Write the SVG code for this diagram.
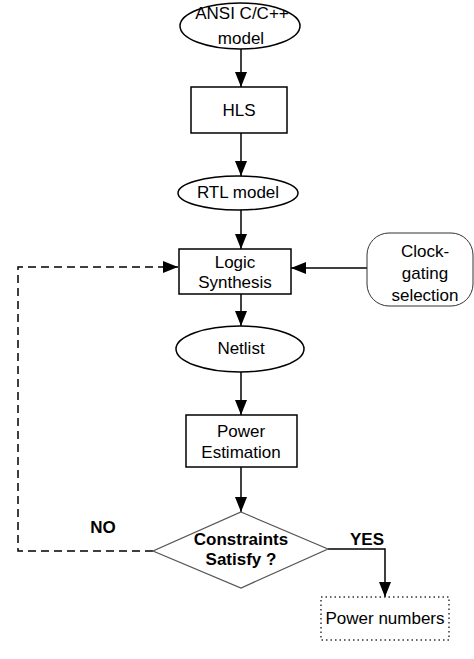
<svg xmlns="http://www.w3.org/2000/svg" width="474" height="659" viewBox="0 0 474 659">
<defs>
<marker id="ah" markerWidth="15" markerHeight="12" refX="15" refY="6" orient="auto" markerUnits="userSpaceOnUse">
<path d="M0,0 L15,6 L0,12 Z" fill="#000"/>
</marker>
</defs>
<style>
.s{fill:#fff;stroke:#000;stroke-width:1.5}
.t{font-family:"Liberation Sans",Arial,sans-serif;font-size:17px;fill:#000;text-anchor:middle}
.b{font-weight:bold}
.c{fill:none;stroke:#000;stroke-width:1.5}
</style>
<rect width="474" height="659" fill="#fff"/>
<g id="connectors">
<line class="c" x1="241" y1="49" x2="241" y2="87" marker-end="url(#ah)"/>
<line class="c" x1="241" y1="133" x2="241" y2="176" marker-end="url(#ah)"/>
<line class="c" x1="241" y1="209" x2="241" y2="249" marker-end="url(#ah)"/>
<line class="c" x1="241" y1="294" x2="241" y2="326" marker-end="url(#ah)"/>
<line class="c" x1="241" y1="372" x2="241" y2="415" marker-end="url(#ah)"/>
<line class="c" x1="241" y1="467" x2="241" y2="512" marker-end="url(#ah)"/>
<line class="c" x1="367" y1="268" x2="291" y2="268" marker-end="url(#ah)"/>
<polyline class="c" points="153,551 18,551 18,267 178,267" stroke-dasharray="8,5" marker-end="url(#ah)"/>
<polyline class="c" points="328,549 385,549 385,597" marker-end="url(#ah)"/>
</g>
<g id="ansi">
<ellipse class="s" cx="240" cy="26" rx="60" ry="23"/>
<text class="t" x="242" y="19" font-size="18">ANSI C/C++</text>
<text class="t" x="241" y="44" font-size="18">model</text>
</g>
<g id="hls">
<rect class="s" x="191" y="87" width="96" height="46"/>
<text class="t" x="239" y="116">HLS</text>
</g>
<g id="rtl">
<ellipse class="s" cx="238" cy="193" rx="60" ry="17"/>
<text class="t" x="238" y="198">RTL model</text>
</g>
<g id="logic">
<rect class="s" x="179" y="249" width="112" height="45"/>
<text class="t" x="235" y="268">Logic</text>
<text class="t" x="235" y="288">Synthesis</text>
</g>
<g id="clock">
<rect x="367" y="233" width="106" height="73" rx="22" ry="22" fill="#fff" stroke="#333" stroke-width="1"/>
<text class="t" x="425" y="257" font-size="16">Clock-</text>
<text class="t" x="425" y="279" font-size="16">gating</text>
<text class="t" x="425" y="301" font-size="16">selection</text>
</g>
<g id="netlist">
<ellipse class="s" cx="240" cy="349" rx="64" ry="23"/>
<text class="t" x="241" y="354">Netlist</text>
</g>
<g id="power">
<rect class="s" x="186" y="415" width="111" height="52"/>
<text class="t" x="241" y="437">Power</text>
<text class="t" x="241" y="458">Estimation</text>
</g>
<g id="decision">
<polygon points="241,512 328,549 241,588 153,551" fill="#fff" stroke="#555" stroke-width="1.2"/>
<text class="t b" x="241" y="545">Constraints</text>
<text class="t b" x="241" y="565">Satisfy ?</text>
</g>
<text class="t b" x="103" y="533">NO</text>
<text class="t b" x="367" y="545">YES</text>
<g id="numbers">
<rect x="321" y="597" width="128" height="43" fill="#fff" stroke="#333" stroke-width="1.5" stroke-dasharray="1.5,3"/>
<text class="t" x="385" y="624" font-size="15.5">Power numbers</text>
</g>
</svg>
